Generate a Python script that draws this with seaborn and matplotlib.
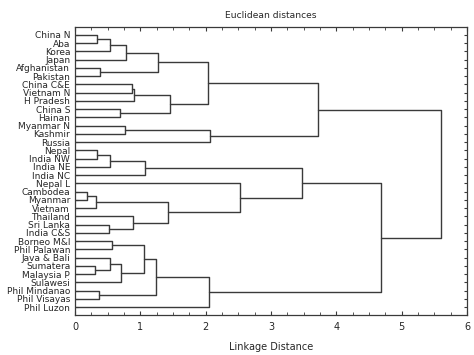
import numpy as np
import pandas as pd
import matplotlib
matplotlib.use("Agg")
import matplotlib.pyplot as plt
from matplotlib.ticker import MultipleLocator
import seaborn as sns

leaves = ["China N", "Aba", "Korea", "Japan", "Afghanistan", "Pakistan",
          "China C&E", "Vietnam N", "H Pradesh", "China S", "Hainan",
          "Myanmar N", "Kashmir", "Russia", "Nepal", "India NW", "India NE",
          "India NC", "Nepal L", "Cambodea", "Myanmar", "Vietnam", "Thailand",
          "Sri Lanka", "India C&S", "Borneo M&I", "Phil Palawan",
          "Java & Bali", "Sumatera", "Malaysia P", "Sulawesi",
          "Phil Mindanao", "Phil Visayas", "Phil Luzon"]

# joins in order: (left, right, linkage distance)
# an int points back to an earlier join in this list
merges = [
    ("China N", "Aba", 0.33),                 # 0
    (0, "Korea", 0.54),                       # 1
    (1, "Japan", 0.78),                       # 2
    ("Afghanistan", "Pakistan", 0.38),        # 3
    (2, 3, 1.27),                             # 4
    ("China C&E", "Vietnam N", 0.87),         # 5
    (5, "H Pradesh", 0.91),                   # 6
    ("China S", "Hainan", 0.69),              # 7
    (6, 7, 1.45),                             # 8
    (4, 8, 2.03),                             # 9
    ("Myanmar N", "Kashmir", 0.76),           # 10
    (10, "Russia", 2.06),                     # 11
    (9, 11, 3.72),                            # 12
    ("Nepal", "India NW", 0.34),              # 13
    (13, "India NE", 0.54),                   # 14
    (14, "India NC", 1.07),                   # 15
    ("Cambodea", "Myanmar", 0.19),            # 16
    (16, "Vietnam", 0.32),                    # 17
    ("Sri Lanka", "India C&S", 0.52),         # 18
    ("Thailand", 18, 0.89),                   # 19
    (17, 19, 1.42),                           # 20
    ("Nepal L", 20, 2.52),                    # 21
    (15, 21, 3.48),                           # 22
    ("Borneo M&I", "Phil Palawan", 0.56),     # 23
    ("Sumatera", "Malaysia P", 0.31),         # 24
    ("Java & Bali", 24, 0.54),                # 25
    (25, "Sulawesi", 0.70),                   # 26
    (23, 26, 1.05),                           # 27
    ("Phil Mindanao", "Phil Visayas", 0.36),  # 28
    (27, 28, 1.24),                           # 29
    (29, "Phil Luzon", 2.05),                 # 30
    (22, 30, 4.68),                           # 31
    (12, 31, 5.60),                           # 32
]

sns.set_style("ticks")
plt.rcParams['font.family'] = ['DejaVu Sans']
plt.rcParams['font.size'] = 7

# node -> (height, position)
nodes = {name: (0.0, i) for i, name in enumerate(leaves)}
rows = []
for i, (a, b, h) in enumerate(merges):
    ha, ya = nodes[a]
    hb, yb = nodes[b]
    for d, p in [(ha, ya), (h, ya), (h, yb), (hb, yb)]:
        rows.append({"node": i, "dist": d, "pos": p})
    nodes[i] = (h, (ya + yb) / 2)
df = pd.DataFrame(rows)

fig = plt.figure(figsize=(4.74, 3.55), dpi=100)
ax = fig.add_axes([75 / 474, 40 / 355, 392 / 474, 288 / 355])

line_col = "#3a3a3a"
sns.lineplot(data=df, x="dist", y="pos", units="node", estimator=None,
             sort=False, color=line_col, linewidth=1.0, ax=ax)

ax.set_xlim(0, 6)
ax.set_ylim(len(leaves) - 0.05, -0.97)
ax.xaxis.set_major_locator(MultipleLocator(1))
ax.xaxis.set_minor_locator(MultipleLocator(0.25))
ax.set_yticks(range(len(leaves)))
ax.set_yticklabels(leaves, fontsize=6.5)

ax.tick_params(axis="x", which="both", direction="in", top=True,
               color=line_col, pad=5)
ax.tick_params(axis="x", which="major", length=3)
ax.tick_params(axis="x", which="minor", length=2.5)
ax.tick_params(axis="y", which="both", direction="in", right=True,
               length=2, color=line_col, pad=3.5)
for s in ax.spines.values():
    s.set_color(line_col)
    s.set_linewidth(0.9)

ax.set_xlabel("Linkage Distance", labelpad=7)
ax.set_ylabel("")
ax.set_title("Euclidean distances", fontsize=6.6, pad=6.5)

fig.savefig("out.png", dpi=100)
